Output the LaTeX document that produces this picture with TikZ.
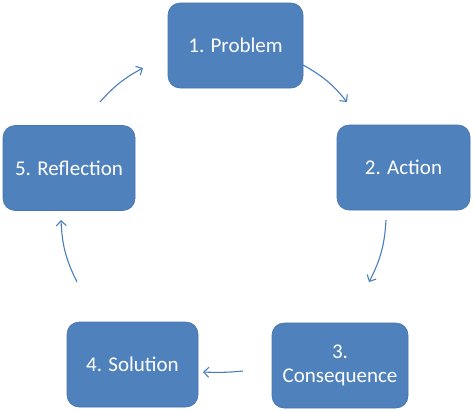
\documentclass[tikz,border=0pt]{standalone}
\usepackage{fontspec}
\setmainfont{Carlito}
\usetikzlibrary{arrows.meta}
\definecolor{boxblue}{HTML}{4F81BD}
\definecolor{boxedge}{HTML}{4575B0}
\definecolor{arrowblue}{HTML}{4A7EBB}
\tikzset{
  stepbox/.style={draw=boxedge, line width=0.6pt, fill=boxblue, rounded corners=12pt,
    minimum width=#1, minimum height=85pt, inner sep=0pt, text=white,
    font=\fontsize{21}{24}\selectfont, align=center},
  stepbox/.default=135pt,
  cyc/.style={draw=arrowblue, line width=1.1pt, -{Straight Barb[length=5pt,width=10pt,line width=1.1pt]}}
}
\begin{document}
\begin{tikzpicture}[x=1pt,y=-1pt]
\useasboundingbox (0,0) rectangle (474,410);
\node[stepbox=135pt] (p) at (235.5,45.5) {1. Problem};
\node[stepbox=133pt] (a) at (403.5,167.5) {2. Action};
\node[stepbox=136pt] (c) at (340,365.5) {3.\\Consequence};
\node[stepbox=131pt] (s) at (132.5,364.5) {4. Solution};
\node[stepbox=132pt] (r) at (69,168) {5. Reflection};
\coordinate (pa1) at (303,65);
\coordinate (pa2) at (347,102);
\coordinate (ac1) at (386,220);
\coordinate (ac2) at (369,282);
\coordinate (cs1) at (243,371);
\coordinate (cs2) at (203,372);
\coordinate (sr1) at (77,282);
\coordinate (sr2) at (61,220);
\coordinate (rp1) at (100,102);
\coordinate (rp2) at (143,68);
\draw[cyc] (pa1) to[bend left=11] (pa2);
\draw[cyc] (ac1) to[bend left=12] (ac2);
\draw[cyc] (cs1) to[bend left=4] (cs2);
\draw[cyc] (sr1) to[bend left=12] (sr2);
\draw[cyc] (rp1) to[bend left=10] (rp2);
\end{tikzpicture}
\end{document}
